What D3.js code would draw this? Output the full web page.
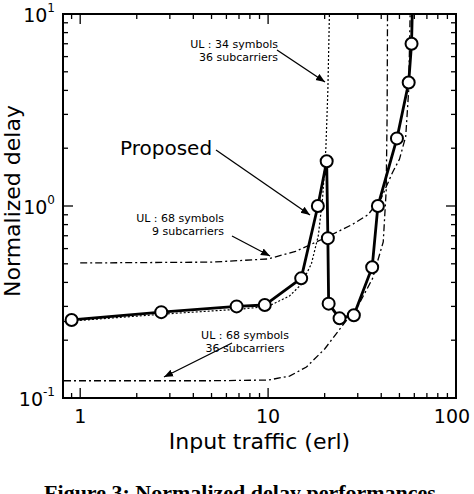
<!DOCTYPE html>
<html>
<head>
<meta charset="utf-8">
<script src="https://cdn.jsdelivr.net/npm/d3@7"></script>
<style>
body{margin:0;background:#fff;}
text{font-family:"DejaVu Sans",sans-serif;fill:#000;}
</style>
</head>
<body>
<script>
// Proposed scheme (circles)
var proposed = [[0.9,0.255],[2.7,0.28],[6.8,0.30],[9.6,0.305],[15,0.42],[18.4,1.0],[20.5,1.71],
  [20.8,0.68],[21,0.31],[24,0.26],[28.6,0.27],[35.8,0.48],[38.4,1.0],[48.5,2.25],[56,4.4],[58,7.0],[58.5,10]];
// UL : 34 symbols, 36 subcarriers (dotted)
var ul34 = [[0.82,0.25],[3,0.275],[7,0.29],[10,0.30],[13,0.34],[15,0.39],[17,0.5],[18.5,0.7],[19.5,1.1],[20.3,2],[20.8,4],[21.2,10]];
// UL : 68 symbols, 9 subcarriers (dash-dot)
var ul68_9 = [[1,0.505],[5,0.51],[10,0.53],[14,0.58],[20,0.68],[28,0.8],[34,0.9],[40,1.1],[46,1.5],[50,1.75],[54,2.3],[56,4],[57,10]];
// UL : 68 symbols, 36 subcarriers (dash-dot)
var ul68_36 = [[0.82,0.123],[5,0.123],[10,0.124],[13,0.13],[16,0.145],[20,0.18],[25,0.24],[30,0.3],[36,0.42],[41,0.65],[42.5,1.2],[43,3],[43.2,10]];
var xTicks = [1,10,100];
var yTicks = [0.1,1,10];

var w = 474, h = 494;
var pL = 63, pR = 456, pT = 14, pB = 398;

var svg = d3.select("body").append("svg").attr("width", w).attr("height", h);

var x = d3.scaleLog().domain([0.81,100]).range([pL,pR]);
var y = d3.scaleLog().domain([0.1,10]).range([pB,pT]);

// minor ticks inward
var minorX = [];
for (var d = 1; d <= 9; d++) { [0.1,1,10].forEach(function(p){ var v=+(d*p).toFixed(3); if (v>=0.81 && v<=100) minorX.push(v); }); }
minorX.push(100);
var minorY = [];
for (var d = 1; d <= 9; d++) { [0.1,1].forEach(function(p){ minorY.push(+(d*p).toFixed(3)); }); }
minorY.push(10);

var g = svg.append("g").attr("stroke","#000").attr("stroke-width",1.3);
minorX.forEach(function(v){
  var len = xTicks.indexOf(v) >= 0 ? 10 : 5;
  g.append("line").attr("x1",x(v)).attr("x2",x(v)).attr("y1",pB).attr("y2",pB-len);
  g.append("line").attr("x1",x(v)).attr("x2",x(v)).attr("y1",pT).attr("y2",pT+len);
});
minorY.forEach(function(v){
  var len = yTicks.indexOf(v) >= 0 ? 10 : 5;
  g.append("line").attr("x1",pL).attr("x2",pL+len).attr("y1",y(v)).attr("y2",y(v));
  g.append("line").attr("x1",pR).attr("x2",pR-len).attr("y1",y(v)).attr("y2",y(v));
});
svg.append("rect").attr("x",pL).attr("y",pT).attr("width",pR-pL).attr("height",pB-pT)
  .attr("fill","none").attr("stroke","#000").attr("stroke-width",2);

// tick labels
xTicks.forEach(function(v){
  svg.append("text").attr("x",v===100 ? x(v)-4 : x(v)).attr("y",pB+25).attr("text-anchor","middle")
    .attr("font-size",19).text(v);
});
yTicks.forEach(function(v){
  var t = svg.append("text").attr("x",pL-8).attr("y",y(v)+8).attr("text-anchor","end").attr("font-size",19);
  t.append("tspan").text("10");
  t.append("tspan").attr("dy",-10).attr("font-size",12).text(Math.round(Math.log10(v)));
});

svg.append("text").attr("x",(pL+pR)/2).attr("y",449).attr("text-anchor","middle")
  .attr("font-size",22).text("Input traffic  (erl)");
svg.append("text").attr("transform","translate(20,"+((pT+pB)/2-5)+") rotate(-90)")
  .attr("text-anchor","middle").attr("font-size",22).text("Normalized delay");
svg.append("text").attr("x",w/2+3).attr("y",500).attr("text-anchor","middle")
  .attr("font-size",22).attr("font-weight","bold").style("font-family","'Liberation Serif',serif")
  .text("Figure 3: Normalized delay performances");

var line = d3.line().x(function(d){return x(d[0]);}).y(function(d){return y(d[1]);});
svg.append("clipPath").attr("id","c").append("rect")
  .attr("x",pL).attr("y",pT).attr("width",pR-pL).attr("height",pB-pT);
var plot = svg.append("g").attr("clip-path","url(#c)");

plot.append("path").datum(ul34).attr("d",line).attr("fill","none").attr("stroke","#000")
  .attr("stroke-width",1.2).attr("stroke-dasharray","2,2");
plot.append("path").datum(ul68_9).attr("d",line).attr("fill","none").attr("stroke","#000")
  .attr("stroke-width",1.3).attr("stroke-dasharray","7,3,2,3");
plot.append("path").datum(ul68_36).attr("d",line).attr("fill","none").attr("stroke","#000")
  .attr("stroke-width",1.3).attr("stroke-dasharray","7,3,2,3");
plot.append("path").datum(proposed).attr("d",line).attr("fill","none").attr("stroke","#000")
  .attr("stroke-width",2.8);
plot.selectAll("circle").data(proposed.slice(0,-1)).enter().append("circle")
  .attr("cx",function(d){return x(d[0]);}).attr("cy",function(d){return y(d[1]);})
  .attr("r",6).attr("fill","#fff").attr("stroke","#000").attr("stroke-width",2);

// annotations
svg.append("defs").append("marker").attr("id","ah").attr("viewBox","0 0 10 10").attr("refX",10).attr("refY",5)
  .attr("markerWidth",7).attr("markerHeight",7).attr("orient","auto")
  .append("path").attr("d","M0,1 L10,5 L0,9 Z").attr("fill","#000");
function note(lines, tx, ty, anchor, size, from, to) {
  lines.forEach(function(s,i){
    svg.append("text").attr("x",tx).attr("y",ty+i*size*1.15).attr("text-anchor",anchor)
      .attr("font-size",size).text(s);
  });
  svg.append("line").attr("x1",from[0]).attr("y1",from[1]).attr("x2",to[0]).attr("y2",to[1])
    .attr("stroke","#000").attr("stroke-width",1.3).attr("marker-end","url(#ah)");
}
note(["UL : 34 symbols","36 subcarriers"], 278, 48, "end", 11, [277,50], [325,82]);
note(["Proposed"], 120, 155, "start", 20, [216,150], [310,215]);
note(["UL : 68 symbols","9 subcarriers"], 224, 222, "end", 11, [232,236], [270,256]);
note(["UL : 68 symbols","36 subcarriers"], 245, 339, "middle", 11, [232,343], [164,377]);
</script>
</body>
</html>
